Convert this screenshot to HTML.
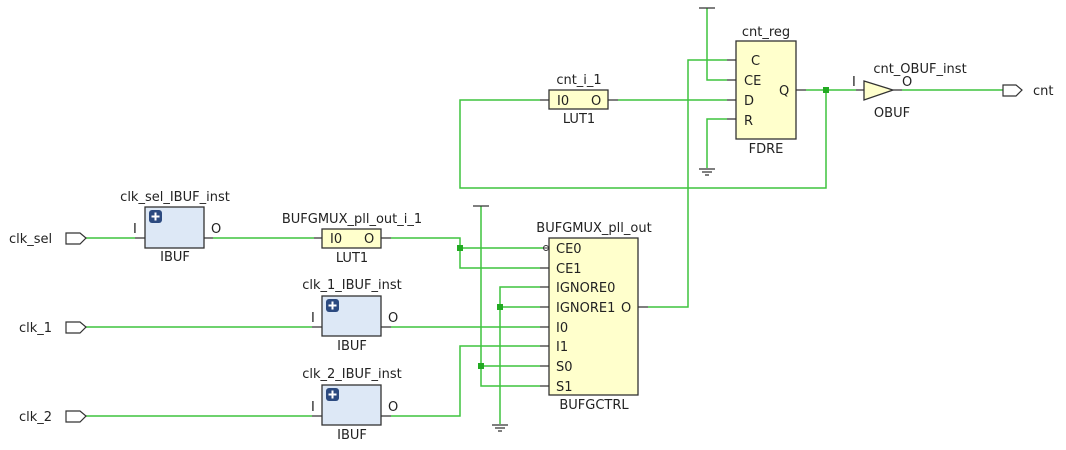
<!DOCTYPE html>
<html><head><meta charset="utf-8"><style>
html,body{margin:0;padding:0;background:#fff;}
svg text{font-family:"DejaVu Sans","Liberation Sans",sans-serif;font-size:13px;fill:#222;}
</style></head><body>
<svg width="1066" height="445" viewBox="0 0 1066 445" xmlns="http://www.w3.org/2000/svg">
<g fill="none" stroke="#3ec43e" stroke-width="1.5">
<path d="M86 238H135"/>
<path d="M213 238H314"/>
<path d="M391 238H460V268H540"/>
<path d="M460 248H544"/>
<path d="M86 327H312"/>
<path d="M391 327H540"/>
<path d="M86 416H312"/>
<path d="M391 416H460V346H540"/>
<path d="M481 206V386H540M481 366H540"/>
<path d="M500 424V287H540M500 307H540"/>
<path d="M648 307H688V60H727"/>
<path d="M707 8V80H727"/>
<path d="M727 119H707V168"/>
<path d="M618 100H727"/>
<path d="M806 90H856"/>
<path d="M826 90V188H460V100H540"/>
<path d="M902 90H1003"/>
</g>
<g fill="#22aa22">
<rect x="457" y="245" width="6" height="6"/>
<rect x="497" y="304" width="6" height="6"/>
<rect x="478" y="363" width="6" height="6"/>
<rect x="823" y="87" width="6" height="6"/>
</g>
<g stroke="#333" stroke-width="1.2" fill="none">
<path d="M473 206H489M699 8H715"/>
<path d="M492 425H508M495 428H505M498 431H502"/>
<path d="M699 169H715M702 172H712M705 175H709"/>
<path d="M66 233H80L86 238L80 244H66Z"/>
<path d="M66 322H80L86 327L80 333H66Z"/>
<path d="M66 411H80L86 416L80 422H66Z"/>
<path d="M1003 85H1016L1022 90L1016 96H1003Z"/>
<path d="M135 238H155M194 238H213"/>
<path d="M312 327H332M372 327H391"/>
<path d="M312 416H332M372 416H391"/>
<path d="M314 238H322M381 238H391"/>
<path d="M540 100H549M608 100H618"/>
<path d="M540 268H549M540 287H549M540 307H549M540 327H549M540 346H549M540 366H549M540 386H549M638 307H648"/>
<path d="M727 60H736M727 80H736M727 100H736M727 119H736M796 90H806"/>
<path d="M856 90H864M893 90H902"/>
<path d="M737 56L742 60L737 64"/>
</g>
<circle cx="546" cy="248" r="2.5" fill="#fff" stroke="#333"/>
<path d="M544 248H549" stroke="#333"/>
<g stroke="#333" stroke-width="1.3">
<rect x="145" y="207" width="59" height="41" fill="#dde8f6"/>
<rect x="322" y="296" width="59" height="40" fill="#dde8f6"/>
<rect x="322" y="385" width="59" height="40" fill="#dde8f6"/>
<rect x="322" y="229" width="59" height="19" fill="#ffffcc"/>
<rect x="549" y="90" width="59" height="19" fill="#ffffcc"/>
<rect x="549" y="238" width="89" height="157" fill="#ffffcc"/>
<rect x="736" y="41" width="60" height="98" fill="#ffffcc"/>
<path d="M864 81L893 90L864 100Z" fill="#ffffcc"/>
</g>
<g fill="#2c4a80">
<rect x="149" y="210" width="13" height="13" rx="3"/>
<rect x="326" y="299" width="13" height="13" rx="3"/>
<rect x="326" y="388" width="13" height="13" rx="3"/>
</g>
<g stroke="#fff" stroke-width="2">
<path d="M151.5 216.5h8M155.5 212.5v8"/>
<path d="M328.5 305.5h8M332.5 301.5v8"/>
<path d="M328.5 394.5h8M332.5 390.5v8"/>
</g>
<text x="9" y="243">clk_sel</text>
<text x="19" y="332">clk_1</text>
<text x="19" y="421">clk_2</text>
<text x="1033" y="95">cnt</text>
<g text-anchor="middle">
<text x="175" y="201">clk_sel_IBUF_inst</text>
<text x="175" y="261">IBUF</text>
<text x="352" y="289">clk_1_IBUF_inst</text>
<text x="352" y="350">IBUF</text>
<text x="352" y="378">clk_2_IBUF_inst</text>
<text x="352" y="439">IBUF</text>
<text x="352" y="223">BUFGMUX_pll_out_i_1</text>
<text x="352" y="262">LUT1</text>
<text x="579" y="84">cnt_i_1</text>
<text x="579" y="123">LUT1</text>
<text x="594" y="232">BUFGMUX_pll_out</text>
<text x="594" y="409">BUFGCTRL</text>
<text x="766" y="36">cnt_reg</text>
<text x="766" y="153">FDRE</text>
<text x="920" y="73">cnt_OBUF_inst</text>
<text x="892" y="117">OBUF</text>
</g>
<text x="133" y="233">I</text>
<text x="211" y="233">O</text>
<text x="311" y="322">I</text>
<text x="388" y="322">O</text>
<text x="311" y="411">I</text>
<text x="388" y="411">O</text>
<text x="330" y="243">I0</text>
<text x="364" y="243">O</text>
<text x="557" y="105">I0</text>
<text x="591" y="105">O</text>
<g>
<text x="556" y="253">CE0</text>
<text x="556" y="273">CE1</text>
<text x="556" y="292">IGNORE0</text>
<text x="556" y="312">IGNORE1</text>
<text x="621" y="312">O</text>
<text x="556" y="332">I0</text>
<text x="556" y="351">I1</text>
<text x="556" y="371">S0</text>
<text x="556" y="391">S1</text>
<text x="751" y="65">C</text>
<text x="744" y="85">CE</text>
<text x="744" y="105">D</text>
<text x="744" y="125">R</text>
<text x="779" y="95">Q</text>
</g>
<text x="852" y="86">I</text>
<text x="902" y="86">O</text>
</svg>
</body></html>
